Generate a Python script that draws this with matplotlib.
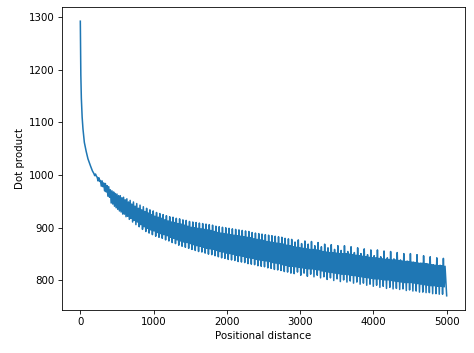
import numpy as np
import matplotlib
matplotlib.use('Agg')
import matplotlib.pyplot as plt

# 前段快速下降部分（距离, 点积）
early_dist = [0, 3, 7, 14, 25, 36, 55, 80, 104, 140, 165]
early_dot = [1292, 1240, 1190, 1146, 1110, 1088, 1062, 1045, 1031, 1017, 1008]

# 振荡部分：从 185 开始，每个周期约 45，每周期读四个值
period_start = 185
period = 45
peak = [
    1003, 996, 990, 985, 980, 972, 968, 964, 961, 958,
    955, 952, 949, 946, 943, 940, 937, 934, 932, 929,
    927, 925, 923, 921, 920, 918, 917, 915, 914, 912,
    911, 910, 909, 908, 907, 906, 905, 903, 902, 901,
    900, 899, 898, 897, 896, 895, 894, 893, 891, 890,
    889, 888, 887, 886, 885, 884, 883, 882, 880, 879,
    878, 873, 877, 870, 875, 869, 874, 866, 872, 864,
    869, 862, 868, 859, 866, 857, 866, 855, 864, 853,
    862, 851, 860, 849, 858, 847, 858, 845, 856, 843,
    855, 841, 853, 839, 851, 837, 851, 835, 849, 833,
    847, 832, 845, 830, 843, 829, 842,
]
core_lo = [
    999, 989, 979, 970, 960, 947, 941, 935, 930, 926,
    922, 918, 914, 911, 906, 902, 899, 896, 894, 891,
    889, 887, 885, 882, 880, 877, 875, 873, 872, 870,
    868, 866, 865, 863, 861, 860, 859, 857, 855, 854,
    852, 851, 850, 848, 847, 846, 844, 843, 842, 840,
    839, 838, 837, 836, 834, 833, 832, 830, 829, 827,
    827, 826, 825, 824, 823, 822, 822, 821, 820, 818,
    817, 816, 815, 814, 813, 812, 812, 811, 810, 809,
    808, 807, 806, 805, 804, 803, 803, 802, 801, 801,
    800, 799, 798, 797, 796, 796, 796, 795, 794, 793,
    792, 791, 790, 790, 789, 789, 788,
]
core_hi = [
    1002, 995, 989, 984, 978, 970, 965, 961, 957, 953,
    949, 945, 941, 937, 934, 931, 928, 925, 922, 920,
    918, 915, 913, 911, 910, 908, 907, 905, 903, 901,
    900, 899, 898, 897, 896, 895, 893, 891, 890, 889,
    888, 887, 886, 885, 884, 883, 882, 881, 879, 878,
    877, 876, 874, 873, 872, 871, 870, 869, 867, 866,
    864, 863, 862, 861, 860, 859, 859, 858, 857, 855,
    854, 853, 853, 852, 851, 851, 851, 850, 849, 848,
    847, 846, 845, 844, 843, 843, 842, 841, 840, 840,
    839, 839, 838, 837, 836, 836, 835, 834, 833, 833,
    832, 831, 830, 829, 828, 828, 827,
]
trough = [
    998, 988, 978, 968, 958, 945, 938, 932, 926, 921,
    916, 911, 906, 902, 897, 893, 890, 887, 884, 882,
    880, 877, 875, 872, 870, 867, 865, 863, 861, 859,
    857, 855, 854, 852, 850, 849, 847, 845, 843, 842,
    840, 839, 838, 836, 835, 834, 832, 831, 830, 828,
    827, 826, 824, 823, 821, 820, 819, 817, 816, 814,
    813, 816, 810, 814, 808, 812, 807, 810, 805, 807,
    802, 805, 800, 803, 798, 801, 797, 799, 795, 797,
    793, 795, 791, 793, 789, 791, 787, 789, 785, 787,
    784, 785, 783, 784, 781, 782, 780, 780, 778, 778,
    777, 777, 775, 775, 774, 774, 800,
]
end_dist, end_dot = 5000, 771

# 每个周期内按 峰 -> 中低 -> 中高 -> 谷 的顺序连线
osc_dot = np.column_stack([peak, core_lo, core_hi, trough]).ravel()
osc_dist = period_start + (period / 4) * np.arange(len(osc_dot))

dist = np.concatenate([early_dist, osc_dist, [end_dist]])
dot = np.concatenate([early_dot, osc_dot, [end_dot]])

fig = plt.figure(figsize=(474 / 74, 353 / 74), dpi=74)
ax = fig.add_axes([0.1308, 0.1232, 0.981 - 0.1308, 0.9788 - 0.1232])
ax.plot(dist, dot, color='#1f77b4', lw=1.5)
ax.set_xlabel('Positional distance')
ax.set_ylabel('Dot product')

fig.savefig('out.png', dpi=74)
